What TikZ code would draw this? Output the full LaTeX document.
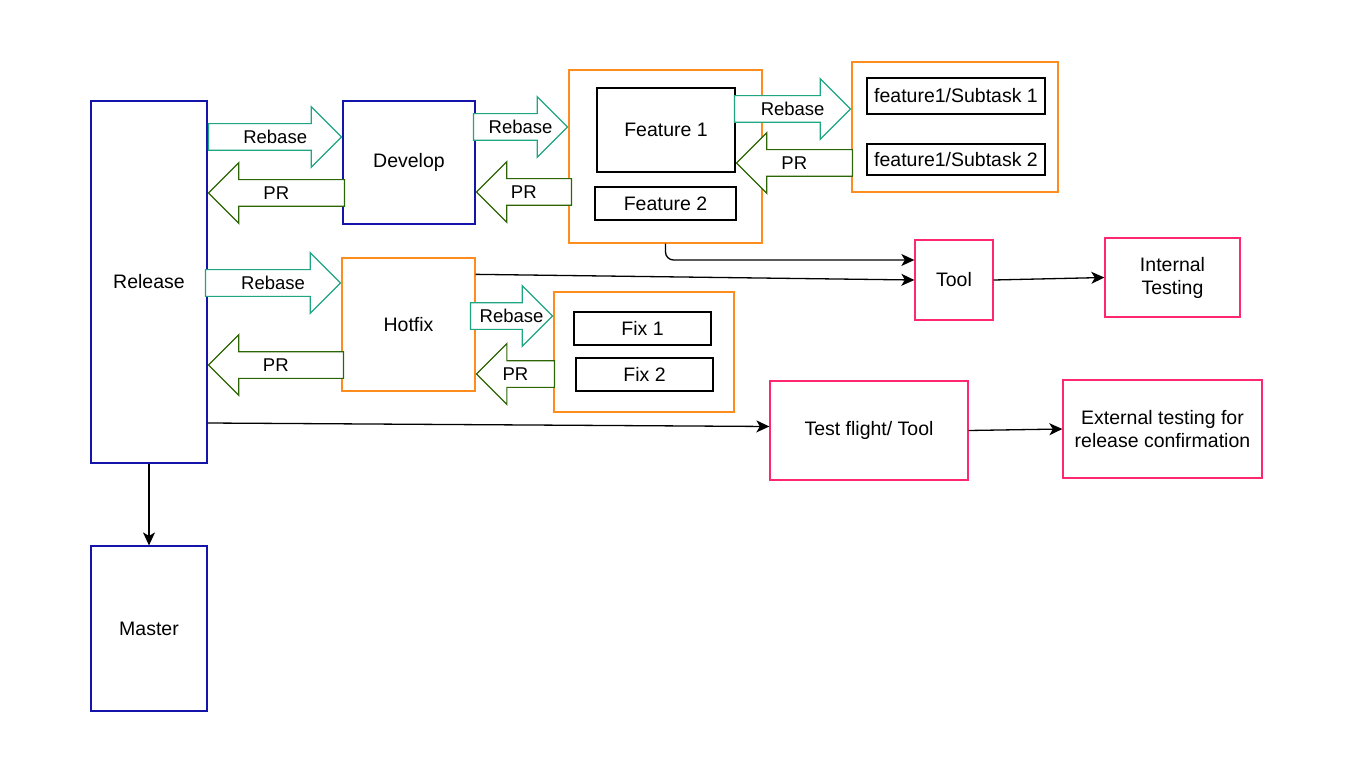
\documentclass[tikz,border=0pt]{standalone}
\usepackage{fontspec}
\setmainfont{Liberation Sans}
\usetikzlibrary{positioning,shapes.arrows,arrows.meta}
\definecolor{branchblue}{RGB}{20,20,170}
\definecolor{branchorange}{RGB}{255,140,30}
\definecolor{toolpink}{RGB}{255,40,110}
\definecolor{rebasegreen}{RGB}{30,165,130}
\definecolor{prgreen}{RGB}{45,100,5}

\begin{document}
\begin{tikzpicture}[x=1pt,y=-1pt,
		bluenode/.style={rectangle, draw=branchblue, line width=1.2pt, inner sep=0pt, font=\fontsize{19.5}{23}\selectfont},
		orangenode/.style={rectangle, draw=branchorange, line width=1.3pt, inner sep=0pt, font=\fontsize{19.5}{23}\selectfont},
		pinknode/.style={rectangle, draw=toolpink, line width=1.3pt, inner sep=0pt, align=center, font=\fontsize{19.5}{23}\selectfont},
		tasknode/.style={rectangle, draw=black, line width=1.2pt, inner sep=0pt, font=\fontsize{19.5}{23}\selectfont},
		blockarrow/.style={single arrow, anchor=tip, fill=white, line width=1.2pt, text height=12.5pt, text depth=0pt, inner ysep=6.5pt, inner xsep=2pt, single arrow head extend=17pt},
		rebasearrow/.style={blockarrow, draw=rebasegreen},
		prarrow/.style={blockarrow, draw=prgreen, shape border rotate=180},
		arrowlabel/.style={midway, inner sep=0pt, font=\fontsize{18.5}{22}\selectfont},
		conn/.style={-{Stealth[length=13pt,width=12pt,inset=3.5pt]}, line width=1.3pt},
		]
		\useasboundingbox (0,0) rectangle (1358,770);
		
		%Nodes
		\node[bluenode, minimum width=116pt, minimum height=362pt] (release) at (149,282) {Release};
		\node[bluenode, minimum width=116pt, minimum height=165pt] (master) at (149,628.5) {Master};
		\node[bluenode, minimum width=132pt, minimum height=123pt] (develop) at (409,162.5) {Develop};
		\node[orangenode, minimum width=193pt, minimum height=173pt] (featgroup) at (665.5,156.5) {};
		\node[tasknode, minimum width=138pt, minimum height=84pt] (feature1) at (666,130) {Feature 1};
		\node[tasknode, minimum width=141pt, minimum height=33pt] (feature2) at (665.5,203.5) {Feature 2};
		\node[orangenode, minimum width=206pt, minimum height=130pt] (subgroup) at (955,127) {};
		\node[tasknode, minimum width=178pt, minimum height=36pt] (subtask1) at (956,96) {feature1/Subtask 1};
		\node[tasknode, minimum width=178pt, minimum height=31pt] (subtask2) at (956,159.5) {feature1/Subtask 2};
		\node[orangenode, minimum width=133pt, minimum height=133pt] (hotfix) at (408.5,324.5) {Hotfix};
		\node[orangenode, minimum width=180pt, minimum height=120pt] (fixgroup) at (644,352) {};
		\node[tasknode, minimum width=137pt, minimum height=33pt] (fix1) at (642.5,328.5) {Fix 1};
		\node[tasknode, minimum width=137pt, minimum height=33pt] (fix2) at (644.5,374.5) {Fix 2};
		\node[pinknode, minimum width=78pt, minimum height=80pt] (tool) at (954,280) {Tool};
		\node[pinknode, minimum width=135pt, minimum height=79pt] (internal) at (1172.5,277.5) {Internal\\Testing};
		\node[pinknode, minimum width=198pt, minimum height=99pt] (testflight) at (869,430.5) {Test flight/ Tool};
		\node[pinknode, minimum width=199pt, minimum height=98pt] (external) at (1162.5,429) {External testing for\\release confirmation};
		
		%Block arrows
		\node[rebasearrow, minimum height=133pt] (rebase1) at ([yshift=25.5pt]develop.west) {};
		\node[prarrow, minimum height=136pt] (pr1) at ([yshift=89pt]release.east) {};
		\node[rebasearrow, minimum height=94pt] (rebase2) at ([yshift=29.5pt]featgroup.west) {};
		\node[prarrow, minimum height=95pt] (pr2) at ([yshift=-29.5pt]develop.east) {};
		\node[rebasearrow, minimum height=116pt] (rebase3) at ([yshift=18pt]subgroup.west) {};
		\node[prarrow, minimum height=116pt] (pr3) at ([yshift=-33pt]feature1.east) {};
		\node[rebasearrow, minimum height=135pt] (rebase4) at ([yshift=41.5pt]hotfix.west) {};
		\node[prarrow, minimum height=135pt] (pr4) at ([yshift=-83pt]release.east) {};
		\node[rebasearrow, minimum height=82pt] (rebase5) at ([yshift=36pt]fixgroup.west) {};
		\node[prarrow, minimum height=78pt] (pr5) at ([yshift=-49.5pt]hotfix.east) {};
		
		%Arrow labels
		\path (rebase1.tail) -- (rebase1.tip) node[arrowlabel] (rebase1text) {Rebase};
		\path (pr1.tail) -- (pr1.tip) node[arrowlabel] (pr1text) {PR};
		\path (rebase2.tail) -- (rebase2.tip) node[arrowlabel] (rebase2text) {Rebase};
		\path (pr2.tail) -- (pr2.tip) node[arrowlabel] (pr2text) {PR};
		\path (rebase3.tail) -- (rebase3.tip) node[arrowlabel] (rebase3text) {Rebase};
		\path (pr3.tail) -- (pr3.tip) node[arrowlabel] (pr3text) {PR};
		\path (rebase4.tail) -- (rebase4.tip) node[arrowlabel] (rebase4text) {Rebase};
		\path (pr4.tail) -- (pr4.tip) node[arrowlabel] (pr4text) {PR};
		\path (rebase5.tail) -- (rebase5.tip) node[arrowlabel] (rebase5text) {Rebase};
		\path (pr5.tail) -- (pr5.tip) node[arrowlabel] (pr5text) {PR};
		
		%Lines
		\draw[conn, rounded corners=8pt] (featgroup.south) |- ([yshift=20pt]tool.west);
		\draw[conn] ([yshift=-17pt]hotfix.north east) -- (tool.west);
		\draw[conn] (tool.east) -- (internal.west);
		\draw[conn] ([yshift=-141pt]release.east) -- ([yshift=4pt]testflight.west);
		\draw[conn] (testflight.east) -- (external.west);
		\draw[conn] (release.south) -- (master.north);
		\end{tikzpicture}
\end{document}
